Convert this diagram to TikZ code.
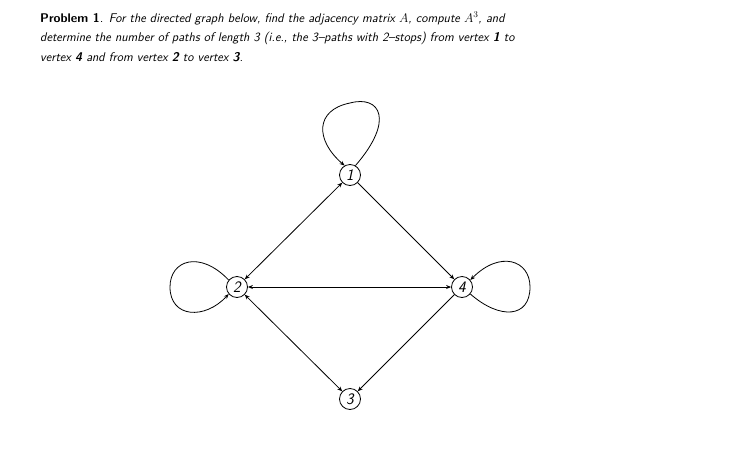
\documentclass[tikz,border=0pt]{standalone}
\usepackage{fix-cm}
\usepackage{fontspec}
\usetikzlibrary{arrows.meta}
\begin{document}
\begin{tikzpicture}[x=1pt,y=-1pt,
  vert/.style={circle,draw,line width=0.8pt,inner sep=0pt,minimum size=21pt,font=\fontsize{16}{16}\selectfont\sffamily\itshape},
  edge/.style={line width=0.8pt,-{Stealth[length=5pt,width=4pt]}},
  bedge/.style={line width=0.8pt,{Stealth[length=5pt,width=4pt]}-{Stealth[length=5pt,width=4pt]}}]
\useasboundingbox (0,0) rectangle (730,450);
\node[anchor=north west,align=left,inner sep=0pt,font=\fontsize{12.6}{19.5}\selectfont\sffamily\itshape] (txt) at (40,12)
{\textbf{\upshape Problem 1}. For the directed graph below, find the adjacency matrix $A$, compute $A^3$, and\\
determine the number of paths of length 3 (i.e., the 3--paths with 2--stops) from vertex \textbf{1} to\\
vertex \textbf{4} and from vertex \textbf{2} to vertex \textbf{3}.};
\node[vert] (n1) at (350,175) {1};
\node[vert] (n2) at (237,287) {2};
\node[vert] (n4) at (462,287) {4};
\node[vert] (n3) at (350,399) {3};
\draw[bedge] (n1) -- (n2);
\draw[edge] (n1) -- (n4);
\draw[bedge] (n2) -- (n4);
\draw[bedge] (n2) -- (n3);
\draw[edge] (n4) -- (n3);
\draw[edge] (n1.60) .. controls (395,120) and (380,95) .. (350,103) .. controls (315,110) and (315,140) .. (n1.120);
\draw[edge] (n2.140) .. controls (200,250) and (170,260) .. (170,287) .. controls (170,318) and (205,320) .. (n2.220);
\draw[edge] (n4.320) .. controls (500,320) and (530,318) .. (530,287) .. controls (530,260) and (500,250) .. (n4.40);
\end{tikzpicture}
\end{document}
